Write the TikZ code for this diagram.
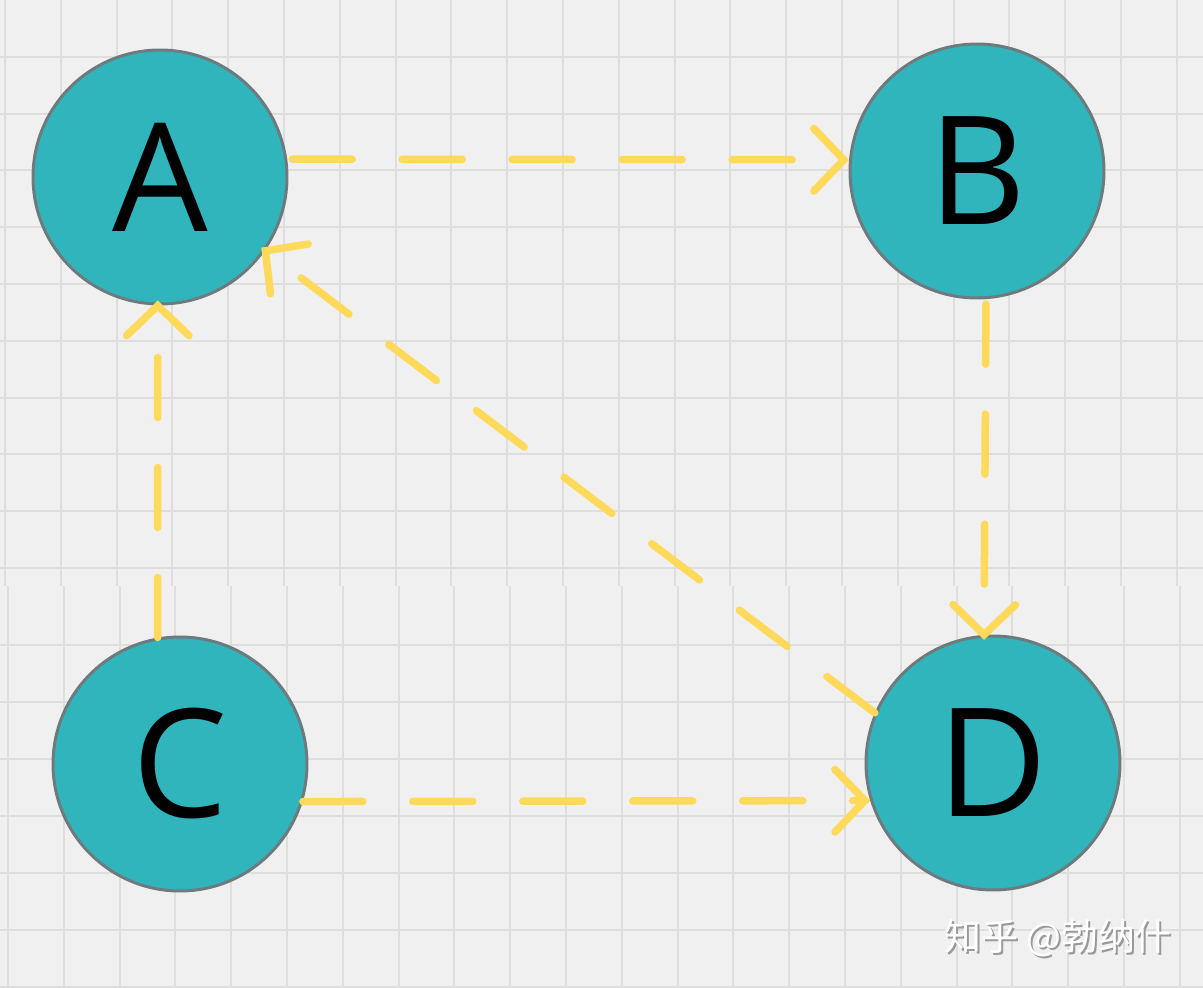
\documentclass[tikz,border=0pt]{standalone}
\usepackage{fontspec}
\setmainfont{Open Sans}
\newfontfamily\cjkfont{Noto Sans CJK SC}
\usetikzlibrary{arrows.meta}
\definecolor{bgcol}{HTML}{F0F0F0}
\definecolor{gridcol}{HTML}{DEDEDE}
\definecolor{tealfill}{HTML}{31B5BD}
\definecolor{rimcol}{HTML}{6E7B7E}
\definecolor{chalk}{HTML}{FFD95A}
\definecolor{shadowcol}{HTML}{9A9A9A}
\tikzset{
  ball/.style={circle, fill=tealfill, draw=rimcol, line width=0.06cm,
    minimum size=5.08cm, inner sep=0pt,
    font=\fontsize{86}{86}\selectfont, text=black},
  chalkarrow/.style={draw=chalk, line width=0.15cm, line cap=round,
    dash pattern=on 1.2cm off 1.0cm,
    -{Straight Barb[length=0.6cm, width=1.25cm, line width=0.15cm, line cap=round]}},
  gridline/.style={draw=gridcol, line width=0.04cm},
  wmtext/.style={font=\cjkfont\fontsize{21}{21}\selectfont}
}
\begin{document}
\begin{tikzpicture}[x=0.02cm, y=-0.02cm]
\useasboundingbox (0,0) rectangle (1203,987);
\fill[bgcol] (0,0) rectangle (1203,987);
% upper grid
\foreach \i in {0,...,21} {\draw[gridline] ({5+55.8*\i},0) -- ({5+55.8*\i},586);}
\foreach \j in {1,...,10} {\draw[gridline] (0,{56.8*\j}) -- (1203,{56.8*\j});}
% lower grid
\foreach \i in {0,...,21} {\draw[gridline] ({8+55.8*\i},586) -- ({8+55.8*\i},987);}
\foreach \j in {0,...,6} {\draw[gridline] (0,{645+57*\j}) -- (1203,{645+57*\j});}

\node[ball] (A) at (160,177) {A};
\node[ball] (B) at (977,171) {B};
\node[ball] (C) at (180,764) {C};
\node[ball] (D) at (993,763) {D};

\draw[chalkarrow, shorten <=0.1cm] (A.8) -- (B.175);
\draw[chalkarrow, shorten <=0.1cm, shorten >=-0.1cm] (B.-86) -- (D.94);
\draw[chalkarrow, shorten >=-0.1cm] (C.100) -- (A.-91);
\draw[chalkarrow] (C.-17) -- (D.197);
\draw[chalkarrow, shorten >=-0.1cm] (D.157) -- (A.-35);

\node[wmtext, text=shadowcol] (wms) at (1060,940) {知乎 @勃纳什};
\node[wmtext, text=white] (wm) at (1058,938) {知乎 @勃纳什};
\end{tikzpicture}
\end{document}
